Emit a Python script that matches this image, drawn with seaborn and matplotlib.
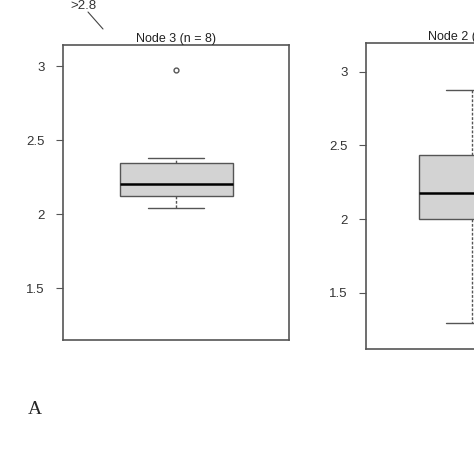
import matplotlib
matplotlib.use("Agg")
import matplotlib.pyplot as plt
import seaborn as sns
import pandas as pd

node3_values = [2.04, 2.10, 2.13, 2.18, 2.22, 2.33, 2.38, 2.97]
node2_values = [1.29, 1.90, 2.00, 2.00, 2.10, 2.26, 2.40, 2.45, 2.60, 2.88]
yticks = [1.5, 2, 2.5, 3]
ytick_labels = ["1.5", "2", "2.5", "3"]

sns.set_style("white")
plt.rcParams['font.family'] = ['Liberation Sans', 'DejaVu Sans']

fig = plt.figure(figsize=(4.74, 4.74), dpi=100)
W = 474

def panel(rect, vals, title, ylim, whis):
    ax = fig.add_axes(rect)
    sns.boxplot(y=pd.Series(vals), ax=ax, width=0.5, whis=whis, color="#d3d3d3",
                linecolor="#555555", linewidth=1.0,
                medianprops=dict(color="black", linewidth=1.8),
                whiskerprops=dict(linestyle=(0, (2, 1.2))),
                flierprops=dict(marker="o", markersize=3.5, markerfacecolor="white",
                                markeredgecolor="#555555"))
    ax.set_xlim(-0.5, 0.5)
    ax.set_ylim(*ylim)
    ax.set_yticks(yticks)
    ax.set_yticklabels(ytick_labels, fontsize=9.5, color="#333333")
    ax.set_xticks([])
    ax.set_ylabel("")
    ax.tick_params(axis="y", left=True, length=5, width=0.8, color="#555555", pad=8)
    for s in ax.spines.values():
        s.set_color("#555555"); s.set_linewidth(1.2)
    ax.set_title(title, fontsize=9, pad=1, color="#222222")
    return ax

panel([63/W, (W-340)/W, 226/W, 295/W], node3_values, "Node 3 (n = 8)", (1.149, 3.142), 1.5)
panel([366/W, (W-349)/W, 212/W, 306/W], node2_values, "Node 2 (n = 10)", (1.116, 3.197), (0, 100))

fig.text(70/W, 1-6/W, ">2.8", fontsize=9.5, color="#333333", va="center")
fig.add_artist(plt.Line2D([88/W, 103/W], [1-12/W, 1-29/W], color="#444444", lw=0.8))
fig.text(28/W, 1-410/W, "A", fontsize=14, family="Liberation Serif", va="center")

fig.savefig("out.png", dpi=100)
